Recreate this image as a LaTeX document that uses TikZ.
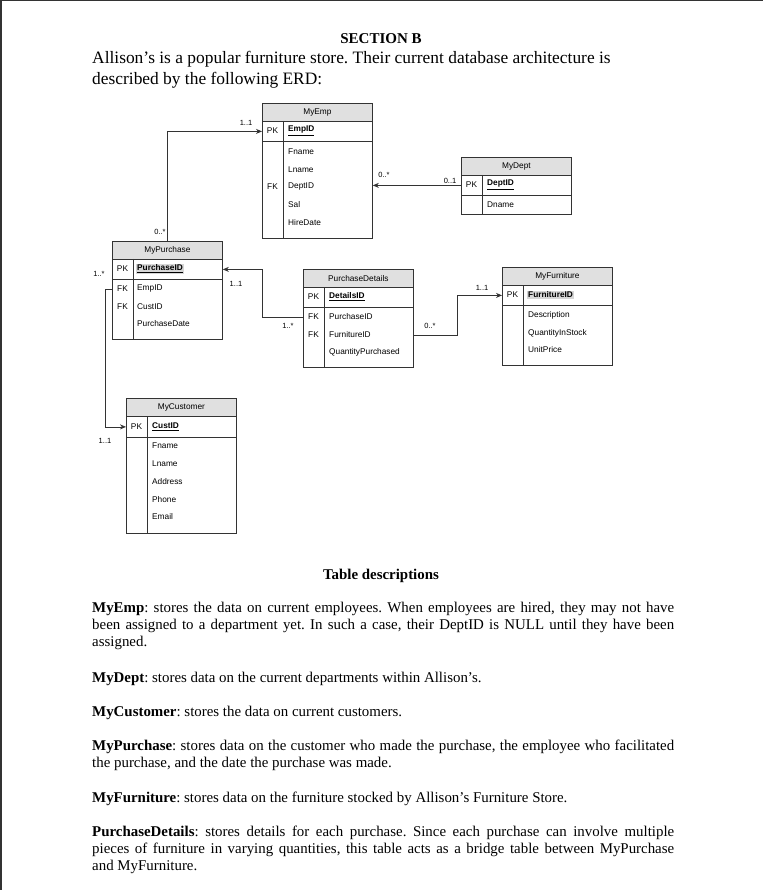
\documentclass[tikz,border=0pt]{standalone}
\usepackage{fontspec}
\setmainfont{Liberation Serif}
\newfontfamily\erdsans{Liberation Sans}
\usetikzlibrary{arrows.meta}
\usetikzlibrary{calc}
\frenchspacing

\definecolor{headgray}{HTML}{E0E0E0}
\definecolor{linegray}{HTML}{333333}
\definecolor{markgray}{HTML}{D6D6D6}

\tikzset{
  tabhead/.style={draw=linegray,fill=headgray,line width=0.8pt,anchor=north west,
    minimum width=110pt,minimum height=18pt,inner sep=0pt,font=\erdsans\fontsize{8.3}{10}\selectfont},
  tabrow/.style={draw=linegray,line width=0.8pt,anchor=north west,minimum width=110pt,inner sep=0pt},
  tabline/.style={draw=linegray,line width=0.8pt},
  attr/.style={anchor=west,inner sep=0pt,font=\erdsans\fontsize{8.3}{10}\selectfont},
  keytag/.style={inner sep=0pt,font=\erdsans\fontsize{8.3}{10}\selectfont},
  marked/.style={attr,fill=markgray,inner sep=0.8pt},
  card/.style={inner sep=0pt,font=\erdsans\fontsize{7.5}{9}\selectfont},
  conn/.style={draw=linegray,line width=0.8pt,-{Stealth[length=6pt,width=5pt]}},
  para/.style={anchor=north west,inner sep=0pt,text width=582pt,align=justify,
    font=\fontsize{14.9}{17}\selectfont},
}

\begin{document}
\begin{tikzpicture}[x=1pt,y=-1pt]
  \useasboundingbox (0,0) rectangle (763,890);
  \draw [linegray,line width=1.5pt] (0,0.75) -- (763,0.75);
  \draw [linegray,line width=1.5pt] (0.75,0) -- (0.75,890);

  % heading and introduction
  \node [anchor=base,font=\bfseries\fontsize{15}{18}\selectfont] (secTitle) at (381,44) {SECTION B};
  \node [anchor=north west,inner sep=0pt,align=left,font=\fontsize{17.4}{21}\selectfont] (intro) at (92,51.5)
    {Allison’s is a popular furniture store. Their current database architecture is\\
     described by the following ERD:};

  % MyEmp
  \node [tabhead] (empHead) at (262,103) {MyEmp};
  \node [tabrow,minimum height=20pt] (empPK) at (262,121) {};
  \node [tabrow,minimum height=97pt] (empBody) at (262,141) {};
  \draw [tabline] ([xshift=21pt]empPK.north west) -- ([xshift=21pt]empBody.south west);
  \node [keytag] (empPKtag) at (272.5,131) {PK};
  \node [attr] (empEmpID) at (288,131) {\textbf{\underline{EmpID}}};
  \node [attr] (empFname) at (288,152) {Fname};
  \node [attr] (empLname) at (288,170) {Lname};
  \node [keytag] (empFKtag) at (272.5,187) {FK};
  \node [attr] (empDeptID) at (288,187) {DeptID};
  \node [attr] (empSal) at (288,205) {Sal};
  \node [attr] (empHireDate) at (288,223) {HireDate};

  % MyDept
  \node [tabhead] (deptHead) at (461,157) {MyDept};
  \node [tabrow,minimum height=20pt] (deptPK) at (461,175) {};
  \node [tabrow,minimum height=19pt] (deptBody) at (461,195) {};
  \draw [tabline] ([xshift=21pt]deptPK.north west) -- ([xshift=21pt]deptBody.south west);
  \node [keytag] (deptPKtag) at (471.5,185) {PK};
  \node [attr] (deptDeptID) at (487,185) {\textbf{\underline{DeptID}}};
  \node [attr] (deptDname) at (487,205) {Dname};

  % MyPurchase
  \node [tabhead] (purHead) at (112,241) {MyPurchase};
  \node [tabrow,minimum height=20pt] (purPK) at (112,259) {};
  \node [tabrow,minimum height=60pt] (purBody) at (112,279) {};
  \draw [tabline] ([xshift=21pt]purPK.north west) -- ([xshift=21pt]purBody.south west);
  \node [keytag] (purPKtag) at (122.5,269) {PK};
  \node [marked] (purPurchaseID) at (136.2,269) {\textbf{\underline{PurchaseID}}};
  \node [keytag] (purFKtag1) at (122.5,289) {FK};
  \node [attr] (purEmpID) at (137,289) {EmpID};
  \node [keytag] (purFKtag2) at (122.5,307) {FK};
  \node [attr] (purCustID) at (137,307) {CustID};
  \node [attr] (purDate) at (137,324) {PurchaseDate};

  % MyCustomer
  \node [tabhead] (custHead) at (126,398) {MyCustomer};
  \node [tabrow,minimum height=21pt] (custPK) at (126,416) {};
  \node [tabrow,minimum height=96pt] (custBody) at (126,437) {};
  \draw [tabline] ([xshift=21pt]custPK.north west) -- ([xshift=21pt]custBody.south west);
  \node [keytag] (custPKtag) at (136.5,426.5) {PK};
  \node [attr] (custCustID) at (152,426.5) {\textbf{\underline{CustID}}};
  \node [attr] (custFname) at (152,446) {Fname};
  \node [attr] (custLname) at (152,464) {Lname};
  \node [attr] (custAddress) at (152,482) {Address};
  \node [attr] (custPhone) at (152,500) {Phone};
  \node [attr] (custEmail) at (152,517) {Email};

  % PurchaseDetails
  \node [tabhead] (pdHead) at (303,269) {PurchaseDetails};
  \node [tabrow,minimum height=20pt] (pdPK) at (303,287) {};
  \node [tabrow,minimum height=60pt] (pdBody) at (303,307) {};
  \draw [tabline] ([xshift=21pt]pdPK.north west) -- ([xshift=21pt]pdBody.south west);
  \node [keytag] (pdPKtag) at (313.5,297) {PK};
  \node [attr] (pdDetailsID) at (329,297) {\textbf{\underline{DetailsID}}};
  \node [keytag] (pdFKtag1) at (313.5,317) {FK};
  \node [attr] (pdPurchaseID) at (329,317) {PurchaseID};
  \node [keytag] (pdFKtag2) at (313.5,335) {FK};
  \node [attr] (pdFurnitureID) at (329,335) {FurnitureID};
  \node [attr] (pdQuantity) at (329,352) {QuantityPurchased};

  % MyFurniture
  \node [tabhead] (furHead) at (502,267) {MyFurniture};
  \node [tabrow,minimum height=20pt] (furPK) at (502,285) {};
  \node [tabrow,minimum height=60pt] (furBody) at (502,305) {};
  \draw [tabline] ([xshift=21pt]furPK.north west) -- ([xshift=21pt]furBody.south west);
  \node [keytag] (furPKtag) at (512.5,295) {PK};
  \node [marked] (furFurnitureID) at (527.2,295) {\textbf{FurnitureID}};
  \node [attr] (furDescription) at (528,315) {Description};
  \node [attr] (furStock) at (528,333) {QuantityInStock};
  \node [attr] (furPrice) at (528,350) {UnitPrice};

  % relationships
  \draw [conn] (purHead.north) |- (empPK.west);
  \draw [conn] (deptPK.west) -- (empBody.east |- deptPK.west);
  \draw [conn] (pdBody.west |- pdPurchaseID) -- ++(-41,0) |- (purPK.east);
  \draw [conn] (pdBody.east |- pdFurnitureID) -- ++(44,0) |- (furPK.west);
  \draw [conn] (purBody.west |- purEmpID) -- ++(-7,0) |- (custPK.west);

  \node [card] (cEmpOne) at (246,123) {1..1};
  \node [card] (cPurEmp) at (160,232) {0..*};
  \node [card] (cEmpDept) at (384,175) {0..*};
  \node [card] (cDeptOne) at (450,181) {0..1};
  \node [card] (cPurOne) at (236,284) {1..1};
  \node [card] (cPdPur) at (288,326) {1..*};
  \node [card] (cPdFur) at (430,326) {0..*};
  \node [card] (cFurOne) at (482,288) {1..1};
  \node [card] (cPurCust) at (99,274) {1..*};
  \node [card] (cCustOne) at (105,441) {1..1};

  % table descriptions
  \node [anchor=base,font=\bfseries\fontsize{14.9}{17}\selectfont] (descTitle) at (381,579) {Table descriptions};
  \node [para] (descEmp) at (92,601.5)
    {\textbf{MyEmp}: stores the data on current employees. When employees are hired, they may not have\linebreak
     been assigned to a department yet. In such a case, their DeptID is NULL until they have been\linebreak
     assigned.};
  \node [para] (descDept) at (92,671.5)
    {\textbf{MyDept}: stores data on the current departments within Allison’s.};
  \node [para] (descCust) at (92,705.5)
    {\textbf{MyCustomer}: stores the data on current customers.};
  \node [para] (descPur) at (92,739.5)
    {\textbf{MyPurchase}: stores data on the customer who made the purchase, the employee who facilitated\linebreak
     the purchase, and the date the purchase was made.};
  \node [para] (descFur) at (92,791.5)
    {\textbf{MyFurniture}: stores data on the furniture stocked by Allison’s Furniture Store.};
  \node [para] (descPd) at (92,825.5)
    {\textbf{PurchaseDetails}: stores details for each purchase. Since each purchase can involve multiple\linebreak
     pieces of furniture in varying quantities, this table acts as a bridge table between MyPurchase\linebreak
     and MyFurniture.};
\end{tikzpicture}
\end{document}
